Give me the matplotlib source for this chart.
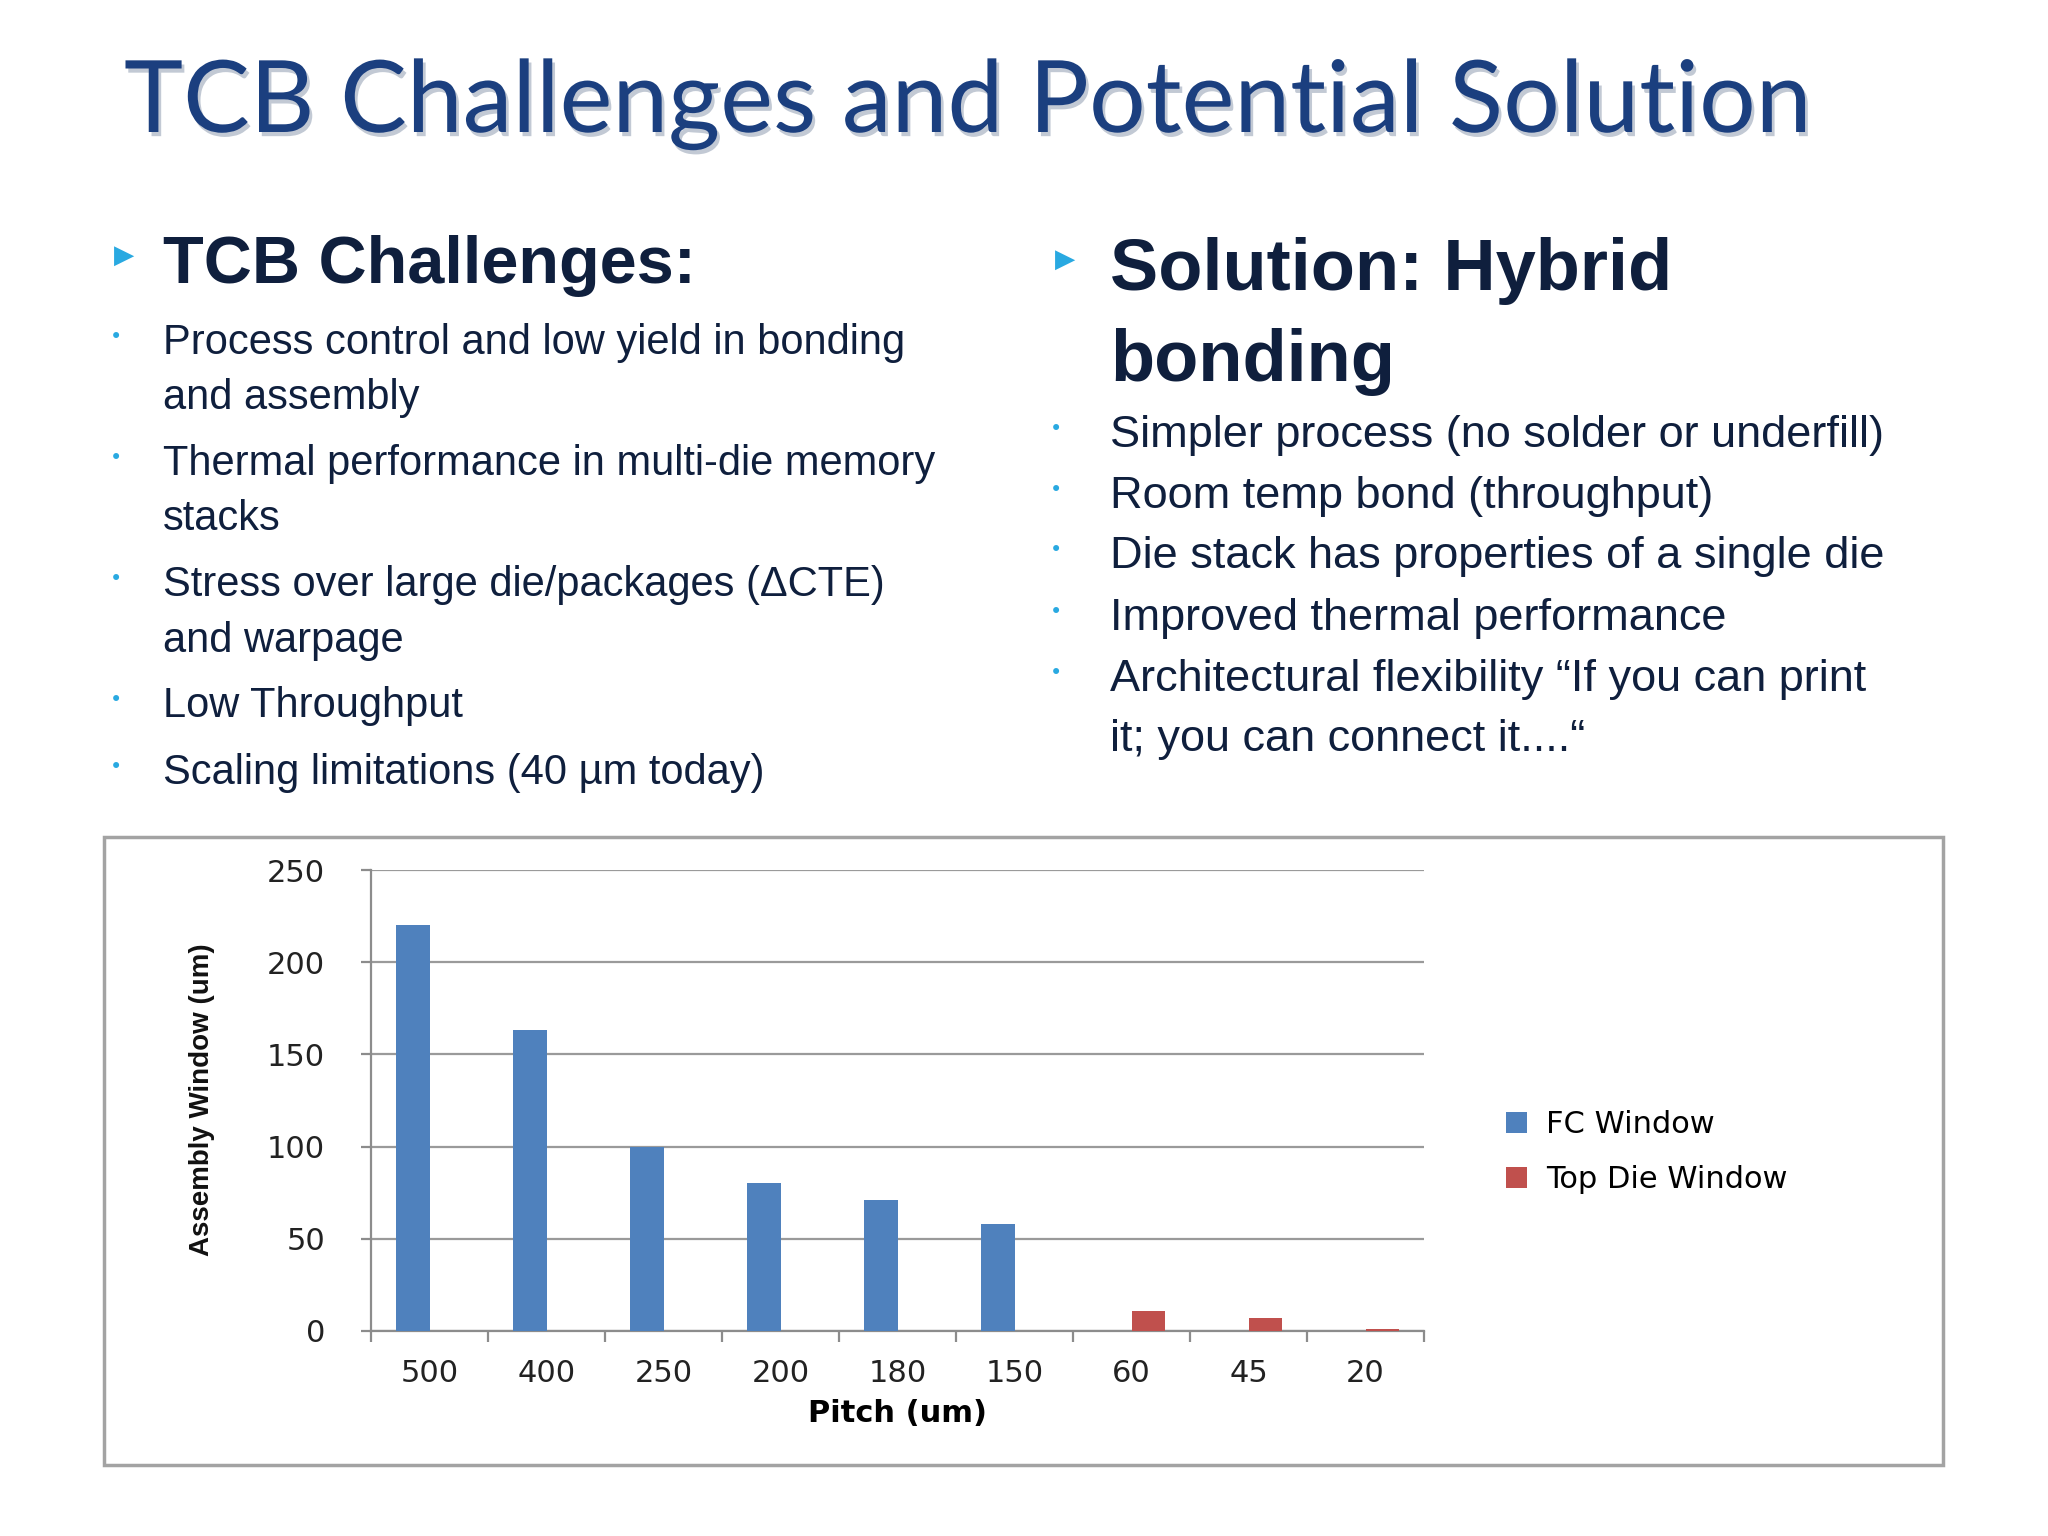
import numpy as np
import matplotlib.pyplot as plt
import matplotlib.patches as mpatches
import matplotlib.patheffects as pe

# data
pitch = ['500', '400', '250', '200', '180', '150', '60', '45', '20']
fc_window = [220, 163, 100, 80, 71, 58, 0, 0, 0]
top_die_window = [0, 0, 0, 0, 0, 0, 11, 7, 1]

left_header = 'TCB Challenges:'
left_items = [
    ['Process control and low yield in bonding', 'and assembly'],
    ['Thermal performance in multi-die memory', 'stacks'],
    ['Stress over large die/packages (\u0394CTE)', 'and warpage'],
    ['Low Throughput'],
    ['Scaling limitations (40 \u00b5m today)'],
]
right_header = ['Solution: Hybrid', 'bonding']
right_items = [
    ['Simpler process (no solder or underfill)'],
    ['Room temp bond (throughput)'],
    ['Die stack has properties of a single die'],
    ['Improved thermal performance'],
    ['Architectural flexibility \u201cIf you can print', 'it; you can connect it....\u201c'],
]

W, H = 2048, 1536
def fx(x):
    return x / W
def fy(y):
    return 1 - y / H

fig = plt.figure(figsize=(20.48, 15.36), dpi=100)
fig.patch.set_facecolor('white')

navy = '#0f1f3d'
cyan = '#29a9e1'
sans = ['Liberation Sans', 'DejaVu Sans']

# slide title
fig.text(fx(124), fy(132), 'TCB Challenges and Potential Solution', fontsize=72,
         family=['Lato', 'DejaVu Sans'], color='#1b3f7f', va='baseline', ha='left',
         path_effects=[pe.withSimplePatchShadow(offset=(2, -3), shadow_rgbFace='#9aa6b8', alpha=0.6)])

# left column
fig.text(fx(114), fy(256), '\u25b6', fontsize=19, color=cyan, va='center', ha='left')
fig.text(fx(163), fy(283), left_header, fontsize=48, fontweight='bold',
         family=sans, color=navy, va='baseline')
left_baselines = [[354, 409], [475, 530], [596, 652], [717], [784]]
for lines, ys in zip(left_items, left_baselines):
    fig.text(fx(110), fy(ys[0] - 17), '\u2022', fontsize=15, color=cyan, va='center')
    for line, y in zip(lines, ys):
        fig.text(fx(163), fy(y), line, fontsize=30, family=sans, color=navy, va='baseline')

# right column
fig.text(fx(1055), fy(260), '\u25b6', fontsize=19, color=cyan, va='center', ha='left')
for line, y in zip(right_header, [290, 381]):
    fig.text(fx(1110), fy(y), line, fontsize=52, fontweight='bold',
             family=sans, color=navy, va='baseline')
right_baselines = [[447], [508], [568], [630], [691, 751]]
for lines, ys in zip(right_items, right_baselines):
    fig.text(fx(1050), fy(ys[0] - 18), '\u2022', fontsize=15, color=cyan, va='center')
    for line, y in zip(lines, ys):
        fig.text(fx(1110), fy(y), line, fontsize=32.5, family=sans, color=navy, va='baseline')

# chart frame
frame = mpatches.Rectangle((fx(104), fy(1465)), (1943 - 104) / W, (1465 - 837) / H,
                           transform=fig.transFigure, fill=False, edgecolor='#a3a3a3', lw=2.5)
fig.add_artist(frame)

# bar chart
ax = fig.add_axes([fx(371), fy(1331), (1424 - 371) / W, (1331 - 870) / H])
x = np.arange(len(pitch))
w = 0.29
ax.bar(x - w / 2, fc_window, w, color='#4f81bd', label='FC Window', zorder=3)
ax.bar(x + w / 2, top_die_window, w, color='#c0504d', label='Top Die Window', zorder=3)

ax.set_xlim(-0.5, len(pitch) - 0.5)
ax.set_ylim(0, 250)
ax.set_yticks(range(0, 251, 50))
ax.yaxis.grid(True, color='#9a9a9a', lw=1.6, zorder=0)
ax.set_axisbelow(True)
for s in ['top', 'right']:
    ax.spines[s].set_visible(False)
for s in ['left', 'bottom']:
    ax.spines[s].set_color('#8c8c8c')
    ax.spines[s].set_linewidth(1.6)

ax.set_xticks(x)
ax.set_xticklabels(pitch)
ax.set_xticks(np.arange(-0.5, len(pitch)), minor=True)
ax.tick_params(axis='x', which='major', length=0, pad=20, labelsize=22, labelcolor='#222222')
ax.tick_params(axis='x', which='minor', length=8, width=1.6, color='#8c8c8c')
ax.tick_params(axis='y', length=7, width=1.6, color='#8c8c8c', pad=26, labelsize=22,
               labelcolor='#222222')

ax.set_xlabel('Pitch (um)', fontsize=22, fontweight='bold', labelpad=8)
fig.text(fx(202), fy(1100), 'Assembly Window (um)', rotation=90, fontsize=20,
         fontweight='bold', family=sans, ha='center', va='center', color='#111111')

ax.legend(loc='center left', bbox_to_anchor=(fx(1506), fy(1152)), bbox_transform=fig.transFigure,
          frameon=False, fontsize=22, handlelength=0.7, handleheight=0.7, handletextpad=0.6,
          labelspacing=0.85, borderpad=0, borderaxespad=0)

fig.savefig('out.png', dpi=100)
